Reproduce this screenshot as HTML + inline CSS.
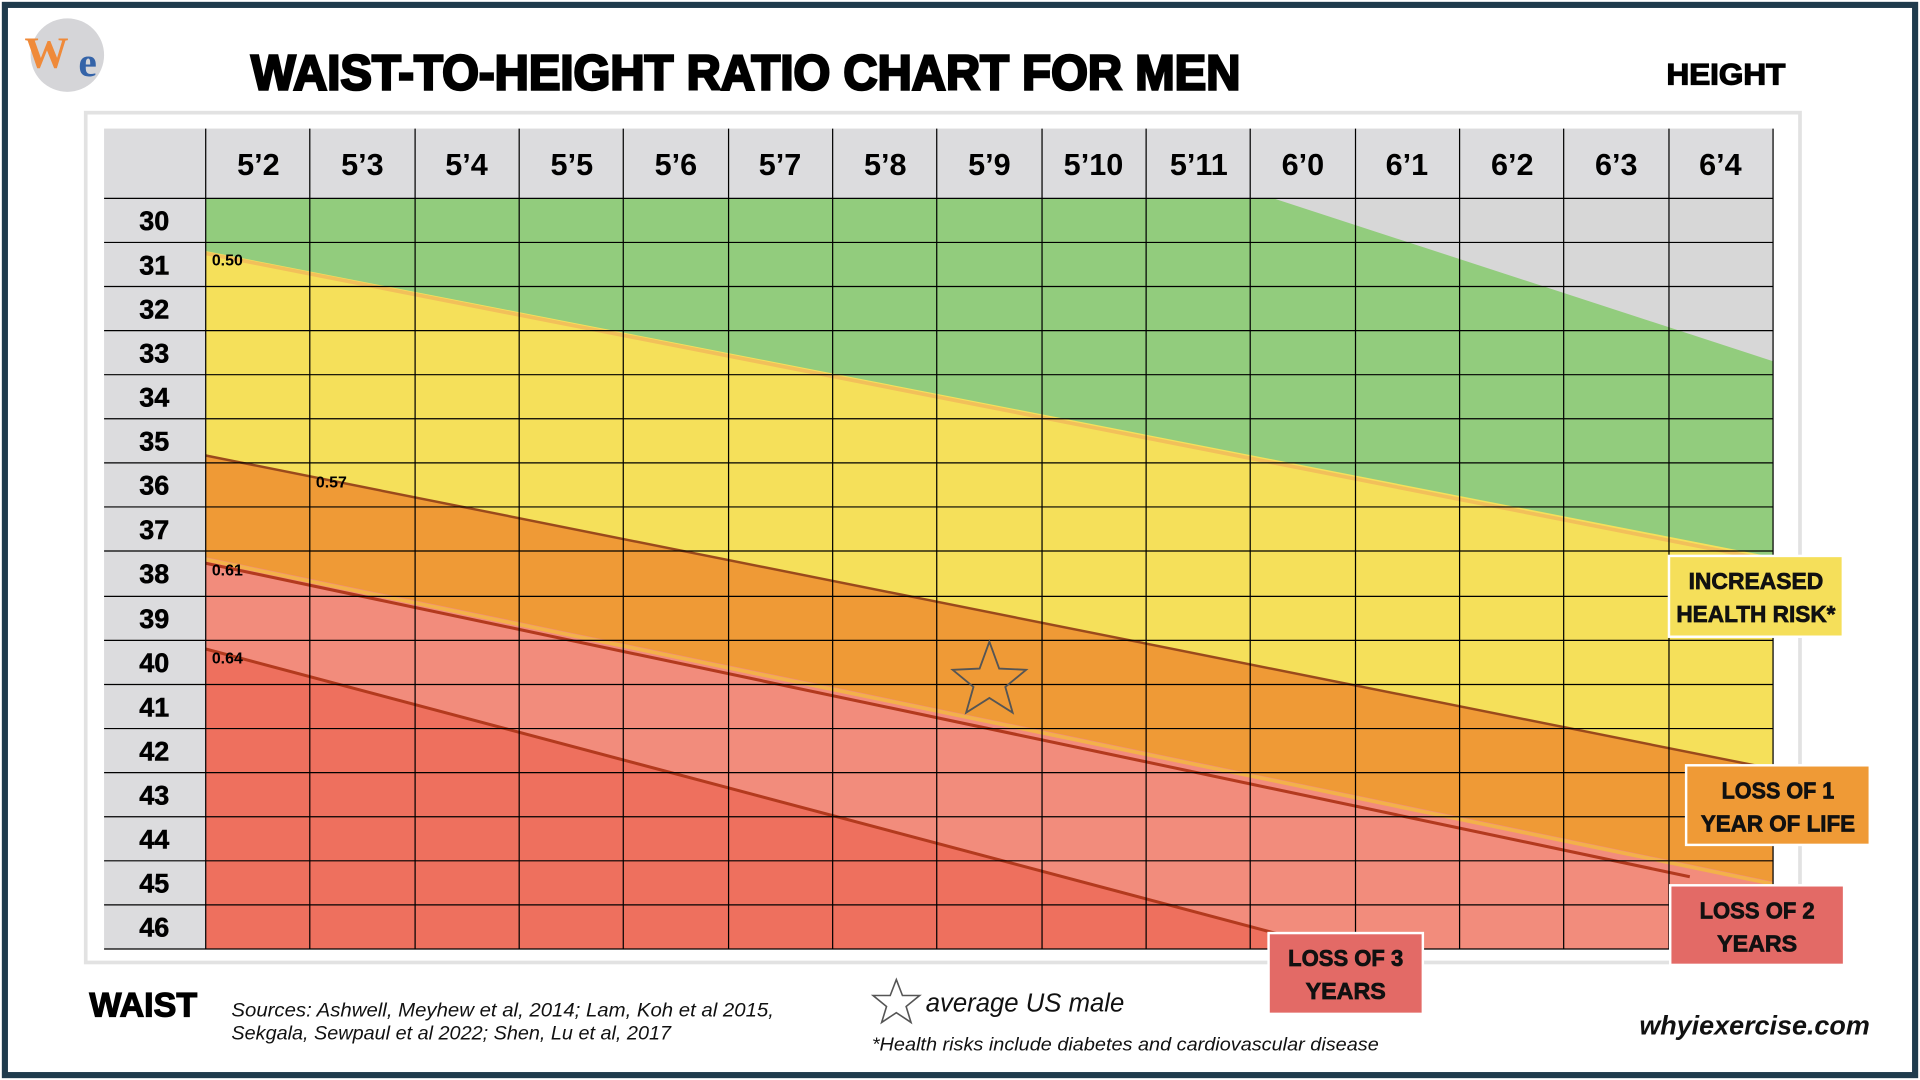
<!DOCTYPE html>
<html><head><meta charset="utf-8"><style>
html,body{margin:0;padding:0;background:#fff;}
svg{display:block;}
</style></head><body>
<svg width="1920" height="1080" viewBox="0 0 1568 882" preserveAspectRatio="none" xmlns="http://www.w3.org/2000/svg" font-family="Liberation Sans, sans-serif">
<rect x="0" y="0" width="1568" height="882" fill="#fff"/>
<rect x="4" y="4" width="1560" height="874" fill="none" stroke="#1f3b4d" stroke-width="5"/>
<circle cx="55" cy="45" r="30" fill="#d5d5d8"/>
<text x="20" y="55" font-family="Liberation Serif, serif" font-size="36" font-weight="bold" fill="#ef8a3a">W</text>
<text x="64" y="62" font-family="Liberation Serif, serif" font-size="34" font-weight="bold" fill="#3463a8">e</text>
<text x="205" y="73" font-size="40" font-weight="bold" fill="#000" stroke="#000" stroke-width="2" textLength="808" lengthAdjust="spacingAndGlyphs">WAIST-TO-HEIGHT RATIO CHART FOR MEN</text>
<text x="1361" y="69" font-size="24" font-weight="bold" fill="#000" stroke="#000" stroke-width="1" textLength="97" lengthAdjust="spacingAndGlyphs">HEIGHT</text>
<rect x="70" y="92" width="1400" height="694" fill="#fff" stroke="#e2e2e2" stroke-width="3"/>
<rect x="85" y="105" width="1363" height="57" fill="#dcdcde"/>
<rect x="85" y="162" width="83" height="613" fill="#dcdcde"/>
<rect x="168" y="162" width="1280" height="613" fill="#ee705e"/>
<polygon points="168,530 1090,775 1448,775 1448,162 168,162" fill="#f28c7c"/>
<polygon points="168,455 1448,720 1448,162 168,162" fill="#ef9a36"/>
<polygon points="168,372 1448,628 1448,162 168,162" fill="#f5e05a"/>
<polygon points="168,205 1448,455 1448,162 168,162" fill="#92cc7d"/>
<polygon points="1040,162 1448,295 1448,162" fill="#d7d7d7"/>
<line x1="168" y1="207" x2="1448" y2="458" stroke="#f2c05a" stroke-width="3"/>
<line x1="168" y1="457" x2="1448" y2="722" stroke="#f3b14a" stroke-width="3"/>
<line x1="168" y1="372" x2="1448" y2="628" stroke="#9a4a1c" stroke-width="2"/>
<line x1="168" y1="460" x2="1380" y2="716" stroke="#b33a1e" stroke-width="2.5"/>
<line x1="168" y1="530" x2="1090" y2="775" stroke="#b33a1e" stroke-width="2.5"/>
<g stroke="#000" stroke-width="1">
<line x1="85" y1="162" x2="1448" y2="162"/>
<line x1="85" y1="198" x2="1448" y2="198"/><line x1="85" y1="234" x2="1448" y2="234"/>
<line x1="85" y1="270" x2="1448" y2="270"/><line x1="85" y1="306" x2="1448" y2="306"/>
<line x1="85" y1="342" x2="1448" y2="342"/><line x1="85" y1="378" x2="1448" y2="378"/>
<line x1="85" y1="414" x2="1448" y2="414"/><line x1="85" y1="450" x2="1448" y2="450"/>
<line x1="85" y1="487" x2="1448" y2="487"/><line x1="85" y1="523" x2="1448" y2="523"/>
<line x1="85" y1="559" x2="1448" y2="559"/><line x1="85" y1="595" x2="1448" y2="595"/>
<line x1="85" y1="631" x2="1448" y2="631"/><line x1="85" y1="667" x2="1448" y2="667"/>
<line x1="85" y1="703" x2="1448" y2="703"/><line x1="85" y1="739" x2="1448" y2="739"/>
<line x1="85" y1="775" x2="1448" y2="775"/>
<line x1="168" y1="105" x2="168" y2="775"/><line x1="253" y1="105" x2="253" y2="775"/>
<line x1="339" y1="105" x2="339" y2="775"/><line x1="424" y1="105" x2="424" y2="775"/>
<line x1="509" y1="105" x2="509" y2="775"/><line x1="595" y1="105" x2="595" y2="775"/>
<line x1="680" y1="105" x2="680" y2="775"/><line x1="765" y1="105" x2="765" y2="775"/>
<line x1="851" y1="105" x2="851" y2="775"/><line x1="936" y1="105" x2="936" y2="775"/>
<line x1="1021" y1="105" x2="1021" y2="775"/><line x1="1107" y1="105" x2="1107" y2="775"/>
<line x1="1192" y1="105" x2="1192" y2="775"/><line x1="1277" y1="105" x2="1277" y2="775"/>
<line x1="1363" y1="105" x2="1363" y2="775"/><line x1="1448" y1="105" x2="1448" y2="775"/>
</g>
<g font-size="25" font-weight="bold" text-anchor="middle" fill="#000">
<text x="211" y="143">5’2</text><text x="296" y="143">5’3</text><text x="381" y="143">5’4</text>
<text x="467" y="143">5’5</text><text x="552" y="143">5’6</text><text x="637" y="143">5’7</text>
<text x="723" y="143">5’8</text><text x="808" y="143">5’9</text><text x="893" y="143">5’10</text>
<text x="979" y="143">5’11</text><text x="1064" y="143">6’0</text><text x="1149" y="143">6’1</text>
<text x="1235" y="143">6’2</text><text x="1320" y="143">6’3</text><text x="1405" y="143">6’4</text>
</g>
<g font-size="22" font-weight="bold" text-anchor="middle" fill="#000" stroke="#000" stroke-width="0.4">
<text x="126" y="188">30</text><text x="126" y="224">31</text><text x="126" y="260">32</text>
<text x="126" y="296">33</text><text x="126" y="332">34</text><text x="126" y="368">35</text>
<text x="126" y="404">36</text><text x="126" y="440">37</text><text x="126" y="476">38</text>
<text x="126" y="513">39</text><text x="126" y="549">40</text><text x="126" y="585">41</text>
<text x="126" y="621">42</text><text x="126" y="657">43</text><text x="126" y="693">44</text>
<text x="126" y="729">45</text><text x="126" y="765">46</text>
</g>
<g font-size="13" font-weight="bold" fill="#000">
<text x="173" y="217">0.50</text><text x="258" y="398">0.57</text>
<text x="173" y="470">0.61</text><text x="173" y="542">0.64</text>
</g>
<polygon points="808,524 816,546 838,547 821,561 827,582 808,570 789,582 795,561 778,547 800,546" fill="none" stroke="#555" stroke-width="1.5"/>
<g font-size="19" font-weight="bold" text-anchor="middle" fill="#111" stroke="#111" stroke-width="0.6">
<rect x="1363" y="454" width="142" height="66" fill="#f5df5a" stroke="#fff" stroke-width="2"/>
<text x="1434" y="481" textLength="110" lengthAdjust="spacingAndGlyphs">INCREASED</text><text x="1434" y="508" textLength="130" lengthAdjust="spacingAndGlyphs">HEALTH RISK*</text>
<rect x="1377" y="625" width="150" height="65" fill="#ef9a36" stroke="#fff" stroke-width="2"/>
<text x="1452" y="652" textLength="92" lengthAdjust="spacingAndGlyphs">LOSS OF 1</text><text x="1452" y="679" textLength="126" lengthAdjust="spacingAndGlyphs">YEAR OF LIFE</text>
<rect x="1364" y="723" width="142" height="65" fill="#e36a66" stroke="#fff" stroke-width="2"/>
<text x="1435" y="750" textLength="94" lengthAdjust="spacingAndGlyphs">LOSS OF 2</text><text x="1435" y="777">YEARS</text>
<rect x="1036" y="762" width="126" height="66" fill="#e36a66" stroke="#fff" stroke-width="2"/>
<text x="1099" y="789" textLength="94" lengthAdjust="spacingAndGlyphs">LOSS OF 3</text><text x="1099" y="816">YEARS</text>
</g>
<text x="73" y="830" font-size="28" font-weight="bold" fill="#000" stroke="#000" stroke-width="1" textLength="88" lengthAdjust="spacingAndGlyphs">WAIST</text>
<g font-size="16" font-style="italic" fill="#111">
<text x="189" y="830" textLength="443" lengthAdjust="spacingAndGlyphs">Sources:  Ashwell, Meyhew et al, 2014;  Lam, Koh et al 2015,</text>
<text x="189" y="849" textLength="359" lengthAdjust="spacingAndGlyphs">Sekgala, Sewpaul et al 2022; Shen, Lu et al, 2017</text>
<text x="712" y="858" font-size="15" textLength="414" lengthAdjust="spacingAndGlyphs">*Health risks include diabetes and cardiovascular disease</text>
</g>
<polygon points="732,800 737,813 751,813 740,822 744,835 732,827 720,835 724,822 713,813 727,813" fill="none" stroke="#555" stroke-width="1.3"/>
<text x="756" y="826" font-size="21" font-style="italic" fill="#111">average US male</text>
<text x="1527" y="845" font-size="22" font-weight="bold" font-style="italic" text-anchor="end" fill="#111">whyiexercise.com</text>
</svg>
</body></html>
